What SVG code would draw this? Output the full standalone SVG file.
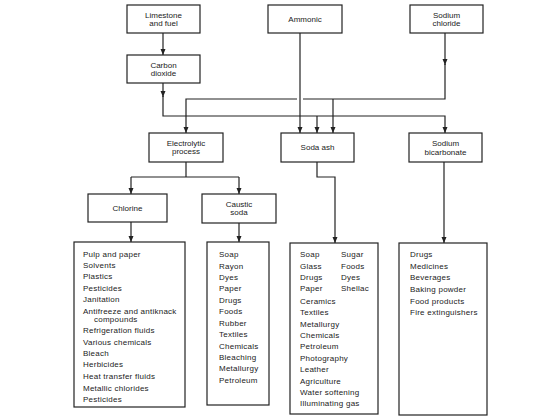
<svg xmlns="http://www.w3.org/2000/svg" width="560" height="420" viewBox="0 0 560 420">
<style>
.box{fill:#fff;stroke:#222;stroke-width:1.2}
.c{fill:none;stroke:#222;stroke-width:1.2}
text{font-family:"Liberation Sans",Arial,sans-serif;font-size:8px;fill:#222}
.m{text-anchor:middle}
.l text{letter-spacing:0.25px}
</style>
<defs>
<marker id="ah" markerUnits="userSpaceOnUse" markerWidth="6" markerHeight="6" refX="6" refY="2.5" orient="auto">
<path d="M0,0 L6,2.5 L0,5 z" fill="#222"/>
</marker>
</defs>
<rect width="560" height="420" fill="#fff"/>
<g id="connectors">
<path class="c" d="M163,33 V55" marker-end="url(#ah)"/>
<path class="c" d="M163,83 V97" marker-end="url(#ah)"/>
<path class="c" d="M163,96 V116 H445 V133" marker-end="url(#ah)"/>
<path class="c" d="M445,33 V65" marker-end="url(#ah)"/>
<path class="c" d="M445,64 V99 H303"/>
<path class="c" d="M297,99 H186 V133" marker-end="url(#ah)"/>
<path class="c" d="M333,99 V133" marker-end="url(#ah)"/>
<path class="c" d="M317,116 V133" marker-end="url(#ah)"/>
<path class="c" d="M300,33 V133" marker-end="url(#ah)"/>
<path class="c" d="M186,162 V177 M131,177 H239"/>
<path class="c" d="M131,177 V194" marker-end="url(#ah)"/>
<path class="c" d="M239,177 V194" marker-end="url(#ah)"/>
<path class="c" d="M131,222 V242" marker-end="url(#ah)"/>
<path class="c" d="M239,223 V242" marker-end="url(#ah)"/>
<path class="c" d="M317,162 V177 H335 V243" marker-end="url(#ah)"/>
<path class="c" d="M444,162 V243" marker-end="url(#ah)"/>
</g>
<g id="limestone"><rect class="box" x="127" y="5" width="73" height="28"/><text class="m" x="163.5" y="17.5">Limestone</text><text class="m" x="163.5" y="25.5">and fuel</text></g>
<g id="ammonic"><rect class="box" x="268" y="5" width="74" height="28"/><text class="m" x="305" y="22">Ammonic</text></g>
<g id="sodium-chloride"><rect class="box" x="410" y="5" width="73" height="28"/><text class="m" x="446.5" y="17.5">Sodium</text><text class="m" x="446.5" y="25.5">chloride</text></g>
<g id="carbon-dioxide"><rect class="box" x="127" y="55" width="73" height="28"/><text class="m" x="163.5" y="67.5">Carbon</text><text class="m" x="163.5" y="75.5">dioxide</text></g>
<g id="electrolytic"><rect class="box" x="149" y="133" width="74" height="29"/><text class="m" x="186" y="145.5">Electrolytic</text><text class="m" x="186" y="153.5">process</text></g>
<g id="soda-ash"><rect class="box" x="281" y="133" width="73" height="29"/><text class="m" x="317.5" y="149.5">Soda ash</text></g>
<g id="sodium-bicarbonate"><rect class="box" x="409" y="133" width="73" height="29"/><text class="m" x="445.5" y="146">Sodium</text><text class="m" x="445.5" y="154.5">bicarbonate</text></g>
<g id="chlorine"><rect class="box" x="88" y="194" width="79" height="28"/><text class="m" x="127.5" y="211">Chlorine</text></g>
<g id="caustic-soda"><rect class="box" x="202" y="194" width="74" height="29"/><text class="m" x="239" y="206.5">Caustic</text><text class="m" x="239" y="214.5">soda</text></g>
<g id="chlorine-uses" class="l"><rect class="box" x="74" y="242" width="111" height="165"/>
<text x="83" y="257">Pulp and paper</text>
<text x="83" y="268">Solvents</text>
<text x="83" y="279">Plastics</text>
<text x="83" y="290.5">Pesticides</text>
<text x="83" y="302">Janitation</text>
<text x="83" y="313.5">Antifreeze and antiknack</text>
<text x="94" y="321.5">compounds</text>
<text x="83" y="333">Refrigeration fluids</text>
<text x="83" y="344.5">Various chemicals</text>
<text x="83" y="356">Bleach</text>
<text x="83" y="367">Herbicides</text>
<text x="83" y="379">Heat transfer fluids</text>
<text x="83" y="390.5">Metallic chlorides</text>
<text x="83" y="401.5">Pesticides</text>
</g>
<g id="caustic-uses" class="l"><rect class="box" x="207" y="242" width="62" height="163"/>
<text x="219" y="257">Soap</text>
<text x="219" y="268.5">Rayon</text>
<text x="219" y="280">Dyes</text>
<text x="219" y="291">Paper</text>
<text x="219" y="303">Drugs</text>
<text x="219" y="314">Foods</text>
<text x="219" y="326">Rubber</text>
<text x="219" y="337">Textiles</text>
<text x="219" y="348.5">Chemicals</text>
<text x="219" y="360">Bleaching</text>
<text x="219" y="371">Metallurgy</text>
<text x="219" y="383">Petroleum</text>
</g>
<g id="soda-ash-uses" class="l"><rect class="box" x="290" y="243" width="88" height="171"/>
<text x="300" y="257">Soap</text><text x="341" y="257">Sugar</text>
<text x="300" y="269">Glass</text><text x="341" y="269">Foods</text>
<text x="300" y="280">Drugs</text><text x="341" y="280">Dyes</text>
<text x="300" y="291">Paper</text><text x="341" y="291">Shellac</text>
<text x="300" y="303.5">Ceramics</text>
<text x="300" y="315">Textiles</text>
<text x="300" y="326.5">Metallurgy</text>
<text x="300" y="338">Chemicals</text>
<text x="300" y="349">Petroleum</text>
<text x="300" y="360.5">Photography</text>
<text x="300" y="372">Leather</text>
<text x="300" y="383.5">Agriculture</text>
<text x="300" y="395">Water softening</text>
<text x="300" y="406">Illuminating gas</text>
</g>
<g id="bicarbonate-uses" class="l"><rect class="box" x="399" y="243" width="88" height="172"/>
<text x="410" y="257">Drugs</text>
<text x="410" y="269">Medicines</text>
<text x="410" y="280">Beverages</text>
<text x="410" y="291.5">Baking powder</text>
<text x="410" y="303.5">Food products</text>
<text x="410" y="315">Fire extinguishers</text>
</g>
</svg>
